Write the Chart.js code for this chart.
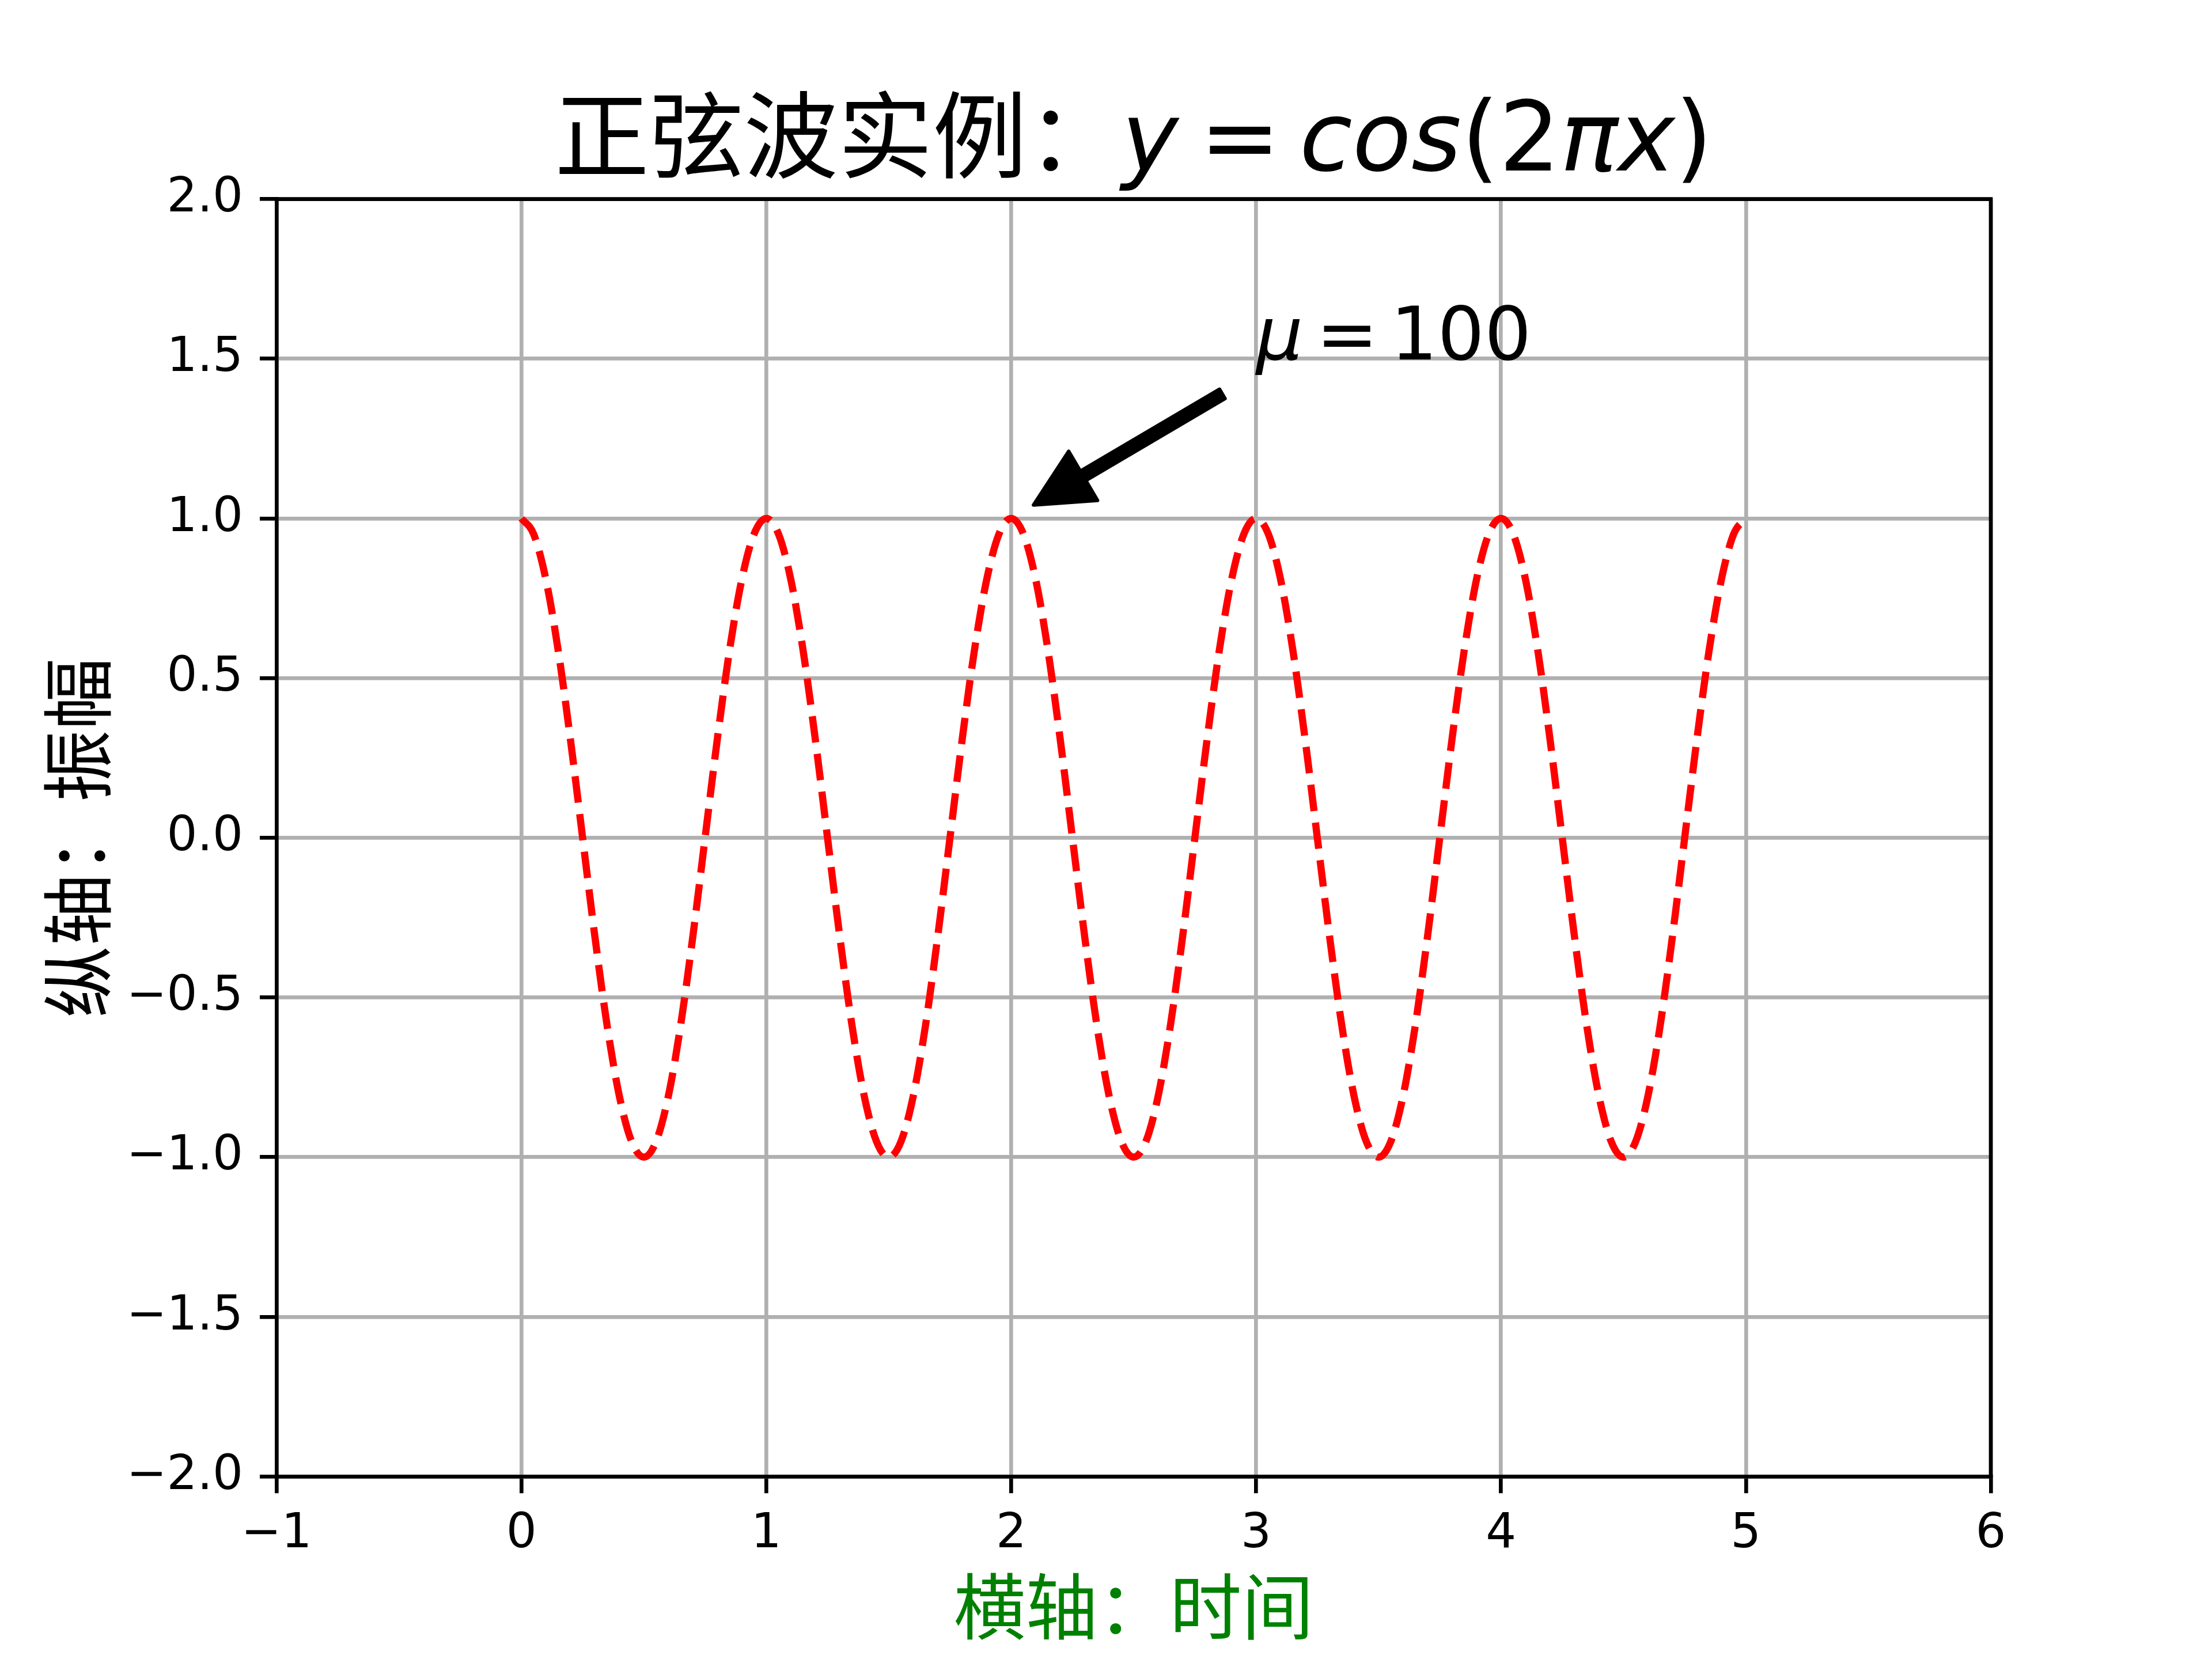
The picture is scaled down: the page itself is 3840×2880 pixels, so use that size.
<!DOCTYPE html>
<html>
<head>
<meta charset="utf-8">
<title>正弦波实例</title>
<script src="https://cdn.jsdelivr.net/npm/chart.js@4.4.0/dist/chart.umd.min.js"></script>
<style>
  html, body { margin: 0; padding: 0; background: #ffffff; }
  #chart { display: block; }
</style>
</head>
<body>
<canvas id="chart" width="3840" height="2880"></canvas>
<script>
const xValues = [
  0, 0.05, 0.1, 0.15, 0.2, 0.25, 0.3, 0.35, 0.4, 0.45,
  0.5, 0.55, 0.6, 0.65, 0.7, 0.75, 0.8, 0.85, 0.9, 0.95,
  1, 1.05, 1.1, 1.15, 1.2, 1.25, 1.3, 1.35, 1.4, 1.45,
  1.5, 1.55, 1.6, 1.65, 1.7, 1.75, 1.8, 1.85, 1.9, 1.95,
  2, 2.05, 2.1, 2.15, 2.2, 2.25, 2.3, 2.35, 2.4, 2.45,
  2.5, 2.55, 2.6, 2.65, 2.7, 2.75, 2.8, 2.85, 2.9, 2.95,
  3, 3.05, 3.1, 3.15, 3.2, 3.25, 3.3, 3.35, 3.4, 3.45,
  3.5, 3.55, 3.6, 3.65, 3.7, 3.75, 3.8, 3.85, 3.9, 3.95,
  4, 4.05, 4.1, 4.15, 4.2, 4.25, 4.3, 4.35, 4.4, 4.45,
  4.5, 4.55, 4.6, 4.65, 4.7, 4.75, 4.8, 4.85, 4.9, 4.95,
  5
]
const yValues = [
  1, 0.951, 0.809, 0.588, 0.309, 0, -0.309, -0.588, -0.809, -0.951,
  -1, -0.951, -0.809, -0.588, -0.309, 0, 0.309, 0.588, 0.809, 0.951,
  1, 0.951, 0.809, 0.588, 0.309, 0, -0.309, -0.588, -0.809, -0.951,
  -1, -0.951, -0.809, -0.588, -0.309, 0, 0.309, 0.588, 0.809, 0.951,
  1, 0.951, 0.809, 0.588, 0.309, 0, -0.309, -0.588, -0.809, -0.951,
  -1, -0.951, -0.809, -0.588, -0.309, 0, 0.309, 0.588, 0.809, 0.951,
  1, 0.951, 0.809, 0.588, 0.309, 0, -0.309, -0.588, -0.809, -0.951,
  -1, -0.951, -0.809, -0.588, -0.309, 0, 0.309, 0.588, 0.809, 0.951,
  1, 0.951, 0.809, 0.588, 0.309, 0, -0.309, -0.588, -0.809, -0.951,
  -1, -0.951, -0.809, -0.588, -0.309, 0, 0.309, 0.588, 0.809, 0.951,
  1
]
const xTicks = [-1, 0, 1, 2, 3, 4, 5, 6]
const yTicks = [-2.0, -1.5, -1.0, -0.5, 0.0, 0.5, 1.0, 1.5, 2.0]

const titleText = "正弦波实例："
const xLabel = "横轴：时间"
const yLabel = "纵轴：振幅"
const noteText = "100"           // shown as  μ = 100
const notePoint = [3, 1.5]       // where the note text sits
const arrowTail = [2.862, 1.39]
const arrowTip = [2.091, 1.042]

const CJK = '"Noto Sans CJK SC", "Noto Sans CJK JP", sans-serif'
const SANS = '"DejaVu Sans", sans-serif'
const LW = 6.67      // 0.8pt at 600 dpi
const TICK = 29      // 3.5pt

function fmtTick(v, digits) {
  return v.toFixed(digits).replace("-", "\u2212")
}

// draw a row of text runs, each with its own font, starting at x on baseline y
function drawRuns(ctx, runs, x, y) {
  let cx = x
  runs.forEach((r) => {
    if (r.text) {
      ctx.font = r.font
      ctx.fillText(r.text, cx, y)
      cx += ctx.measureText(r.text).width
    }
    cx += r.gap || 0
  })
  return cx - x
}

function runsWidth(ctx, runs) {
  let w = 0
  runs.forEach((r) => {
    if (r.text) {
      ctx.font = r.font
      w += ctx.measureText(r.text).width
    }
    w += r.gap || 0
  })
  return w
}

const decorations = {
  id: "decorations",
  afterDraw(chart) {
    const ctx = chart.ctx
    const area = chart.chartArea
    const xs = chart.scales.x
    const ys = chart.scales.y
    ctx.save()

    // top and right spines
    ctx.strokeStyle = "#000000"
    ctx.lineWidth = LW
    ctx.lineCap = "square"
    ctx.beginPath()
    ctx.moveTo(area.left, area.top)
    ctx.lineTo(area.right, area.top)
    ctx.lineTo(area.right, area.bottom)
    ctx.stroke()

    // title
    ctx.fillStyle = "#000000"
    ctx.textBaseline = "alphabetic"
    ctx.textAlign = "left"
    const tSize = 167
    const it = "italic " + tSize + "px " + SANS
    const up = tSize + "px " + SANS
    const titleRuns = [
      { text: titleText, font: "164px " + CJK },
      { text: "y", font: it, gap: 0.22 * tSize },
      { text: "=", font: up, gap: 0.2 * tSize },
      { text: "cos", font: it },
      { text: "(", font: up },
      { text: "2", font: up },
      { text: "\u03c0", font: it },
      { text: "x", font: it },
      { text: ")", font: up },
    ]
    const tw = runsWidth(ctx, titleRuns)
    drawRuns(ctx, titleRuns, (area.left + area.right) / 2 - tw / 2, 296)

    // annotation text  μ = 100
    const nSize = 128
    const noteRuns = [
      { text: "\u03bc", font: "italic " + nSize + "px " + SANS, gap: 0.18 * nSize },
      { text: "=", font: nSize + "px " + SANS, gap: 0.17 * nSize },
      { text: noteText, font: nSize + "px " + SANS },
    ]
    drawRuns(ctx, noteRuns, xs.getPixelForValue(notePoint[0]), ys.getPixelForValue(notePoint[1]) + 1)

    // arrow
    const tx = xs.getPixelForValue(arrowTip[0])
    const ty = ys.getPixelForValue(arrowTip[1])
    const sx = xs.getPixelForValue(arrowTail[0])
    const sy = ys.getPixelForValue(arrowTail[1])
    const len = Math.hypot(sx - tx, sy - ty)
    const ux = (sx - tx) / len
    const uy = (sy - ty) / len
    const nx = -uy
    const ny = ux
    const headLen = 100
    const headW = 99 / 2
    const shaftW = 19 / 2
    const bx = tx + ux * headLen
    const by = ty + uy * headLen
    ctx.beginPath()
    ctx.moveTo(tx, ty)
    ctx.lineTo(bx + nx * headW, by + ny * headW)
    ctx.lineTo(bx + nx * shaftW, by + ny * shaftW)
    ctx.lineTo(sx + nx * shaftW, sy + ny * shaftW)
    ctx.lineTo(sx - nx * shaftW, sy - ny * shaftW)
    ctx.lineTo(bx - nx * shaftW, by - ny * shaftW)
    ctx.lineTo(bx - nx * headW, by - ny * headW)
    ctx.closePath()
    ctx.fillStyle = "#000000"
    ctx.fill()
    ctx.lineJoin = "round"
    ctx.lineWidth = 6
    ctx.strokeStyle = "#000000"
    ctx.stroke()

    // x axis label
    ctx.font = "125px " + CJK
    ctx.textAlign = "center"
    ctx.fillStyle = "#008000"
    ctx.fillText(xLabel, (area.left + area.right) / 2, 2836)

    // y axis label
    ctx.fillStyle = "#000000"
    ctx.translate(182, (area.top + area.bottom) / 2)
    ctx.rotate(-Math.PI / 2)
    ctx.fillText(yLabel, 0, 0)

    ctx.restore()
  },
}

const gridOpts = {
  color: "#b0b0b0",
  lineWidth: LW,
  drawTicks: true,
  tickLength: TICK,
  tickColor: "#000000",
  tickWidth: LW,
}

const chart = new Chart(document.getElementById("chart"), {
  type: "line",
  data: {
    datasets: [
      {
        data: xValues.map((x, i) => ({ x: x, y: yValues[i] })),
        borderColor: "#ff0000",
        borderWidth: 12.5,
        borderDash: [46, 20],
        borderCapStyle: "butt",
        pointRadius: 0,
        cubicInterpolationMode: "monotone",
        fill: false,
      },
    ],
  },
  options: {
    responsive: false,
    devicePixelRatio: 1,
    animation: false,
    events: [],
    layout: { padding: { top: 345.6, right: 384, bottom: 0, left: 0 } },
    plugins: {
      legend: { display: false },
      tooltip: { enabled: false },
    },
    scales: {
      x: {
        type: "linear",
        min: -1,
        max: 6,
        afterBuildTicks: (s) => { s.ticks = xTicks.map((v) => ({ value: v })) },
        afterFit: (s) => { s.height = 2880 - 2563.2 },
        ticks: {
          callback: (v) => fmtTick(v, 0),
          color: "#000000",
          font: { family: "DejaVu Sans", size: 83.3 },
          padding: 22,
          maxRotation: 0,
          autoSkip: false,
        },
        grid: gridOpts,
        border: { display: true, color: "#000000", width: LW },
      },
      y: {
        type: "linear",
        min: -2,
        max: 2,
        afterBuildTicks: (s) => { s.ticks = yTicks.map((v) => ({ value: v })) },
        afterFit: (s) => { s.width = 480 },
        ticks: {
          callback: (v) => fmtTick(v, 1),
          color: "#000000",
          font: { family: "DejaVu Sans", size: 83.3 },
          padding: 29,
          autoSkip: false,
        },
        grid: gridOpts,
        border: { display: true, color: "#000000", width: LW },
      },
    },
  },
  plugins: [decorations],
})
</script>
</body>
</html>
